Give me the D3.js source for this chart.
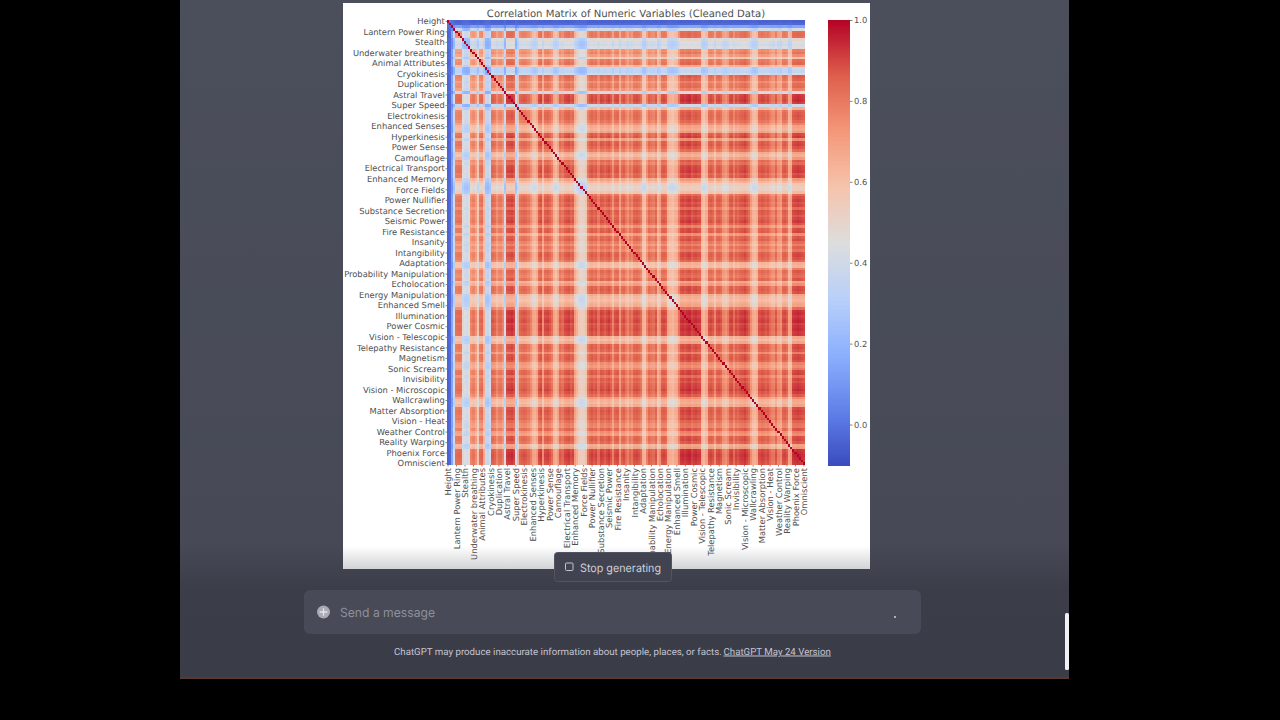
<!DOCTYPE html>
<html>
<head>
<meta charset="utf-8">
<script src="https://cdn.jsdelivr.net/npm/d3@7"></script>
<style>
  html, body { margin: 0; padding: 0; background: #000; overflow: hidden; }
  svg { display: block; text-rendering: geometricPrecision; }
  .tick text { font-family: "DejaVu Sans", sans-serif; }
</style>
</head>
<body>
<svg id="page" width="1280" height="720"></svg>
<script>
// Every fourth variable carries a tick label.
const tickLabels = ["Height","Lantern Power Ring","Stealth","Underwater breathing","Animal Attributes","Cryokinesis","Duplication","Astral Travel","Super Speed","Electrokinesis","Enhanced Senses","Hyperkinesis","Power Sense","Camouflage","Electrical Transport","Enhanced Memory","Force Fields","Power Nullifier","Substance Secretion","Seismic Power","Fire Resistance","Insanity","Intangibility","Adaptation","Probability Manipulation","Echolocation","Energy Manipulation","Enhanced Smell","Illumination","Power Cosmic","Vision - Telescopic","Telepathy Resistance","Magnetism","Sonic Scream","Invisibility","Vision - Microscopic","Wallcrawling","Matter Absorption","Vision - Heat","Weather Control","Reality Warping","Phoenix Force","Omniscient"];
const labelStep = 4;

// How strongly each of the 169 variables correlates with the rest (estimates).
const strength = [
  -.05,-.03,.15,.45,.86,.87,.86,.52,.46,.44,.48,.81,.84,.78,.62,.86,.88,.70,.40,.38,
  .45,.90,.88,.81,.86,.87,.81,.45,.95,.96,.97,.94,.42,.68,.88,.90,.91,.90,.87,.81,
  .72,.70,.75,.93,.95,.78,.93,.94,.91,.86,.72,.68,.75,.90,.87,.93,.94,.95,.91,.93,
  .75,.68,.60,.56,.58,.64,.87,.92,.94,.91,.93,.86,.94,.93,.90,.93,.95,.91,.81,.92,
  .93,.78,.90,.92,.86,.81,.88,.84,.92,.93,.91,.87,.68,.66,.81,.90,.88,.86,.91,.72,
  .78,.92,.93,.91,.72,.68,.66,.70,.72,.86,.96,.97,.95,.97,.98,.94,.96,.97,.95,.95,
  .70,.66,.72,.92,.93,.91,.81,.92,.93,.91,.81,.78,.83,.93,.94,.86,.93,.91,.94,.95,
  .97,.94,.90,.78,.70,.68,.72,.92,.94,.93,.91,.93,.88,.84,.83,.91,.81,.78,.92,.93,
  .90,.72,.75,.96,.97,.98,.97,.96,.95
];

const colorbarTicks = [0, 0.2, 0.4, 0.6, 0.8, 1.0];
const valueDomain = [-0.1, 1.0];

// Diverging coolwarm ramp.
const coolwarmStops = ["#3b4cc0","#6282ea","#8db0fe","#b8d0f9","#dddddd","#f5c4ad","#f4987a","#de604d","#b40426"];

const title = "Correlation Matrix of Numeric Variables (Cleaned Data)";
const footerText = "ChatGPT may produce inaccurate information about people, places, or facts.";
const footerLink = "ChatGPT May 24 Version";

const svg = d3.select("#page");
const defs = svg.append("defs");

// Page shell
const shellGrad = defs.append("linearGradient").attr("id","shell").attr("x1",0).attr("x2",0).attr("y1",0).attr("y2",1);
shellGrad.append("stop").attr("offset","0%").attr("stop-color","#4b4e5b");
shellGrad.append("stop").attr("offset","80%").attr("stop-color","#474a56");
shellGrad.append("stop").attr("offset","87%").attr("stop-color","#3b3d49");
shellGrad.append("stop").attr("offset","100%").attr("stop-color","#3a3c47");
svg.append("rect").attr("width",1280).attr("height",720).attr("fill","#000");
svg.append("rect").attr("x",180).attr("width",889).attr("height",678).attr("fill","url(#shell)");
svg.append("rect").attr("x",180).attr("y",677).attr("width",889).attr("height",2).attr("fill","#5a3a2a");

// White figure panel with its fade at the bottom edge
const fadeGrad = defs.append("linearGradient").attr("id","fade").attr("x1",0).attr("x2",0).attr("y1",0).attr("y2",1);
fadeGrad.append("stop").attr("offset","0%").attr("stop-color","#fff");
fadeGrad.append("stop").attr("offset","100%").attr("stop-color","#d2d3d6");
svg.append("rect").attr("x",343).attr("y",3).attr("width",527).attr("height",566).attr("fill","#fff");
svg.append("rect").attr("x",343).attr("y",546).attr("width",527).attr("height",23).attr("fill","url(#fade)");

// Heatmap
const n = strength.length;
const index = d3.range(n);
const x = d3.scaleBand().domain(index).range([447, 805]);
const y = d3.scaleBand().domain(index).range([20, 465]);
const tickIndex = index.filter(i => i % labelStep === 0);
const tickName = i => tickLabels[i / labelStep];

const ramp = d3.scaleLinear()
  .domain(d3.range(coolwarmStops.length).map(k => k / (coolwarmStops.length - 1)))
  .range(coolwarmStops)
  .interpolate(d3.interpolateRgb);
const color = d3.scaleSequential(t => ramp(t)).domain(valueDomain);

const cells = index.flatMap(i => index.map(j => ({
  i, j,
  value: i === j ? 1 : strength[i] * strength[j]
})));

svg.append("g").attr("shape-rendering","crispEdges")
  .selectAll("rect").data(cells).join("rect")
  .attr("x", d => Math.round(x(d.j)))
  .attr("y", d => Math.round(y(d.i)))
  .attr("width", d => Math.round(x(d.j) + x.bandwidth()) - Math.round(x(d.j)))
  .attr("height", d => Math.round(y(d.i) + y.bandwidth()) - Math.round(y(d.i)))
  .attr("fill", d => color(d.value));

// Axes
const inkColor = "#505050";
const tickFontSize = "8.35px";
const yAxis = svg.append("g").attr("transform","translate(447,0)")
  .call(d3.axisLeft(y).tickValues(tickIndex).tickFormat(tickName).tickSize(1.5));
yAxis.selectAll("text").attr("x",-2.2);
const xAxis = svg.append("g").attr("transform","translate(0,465)")
  .call(d3.axisBottom(x).tickValues(tickIndex).tickFormat(tickName).tickSize(1.5));
xAxis.selectAll("text")
  .attr("transform","rotate(-90)")
  .attr("text-anchor","end")
  .attr("dominant-baseline","middle")
  .attr("x",-3).attr("y",0.8).attr("dy",0);
for (const axis of [xAxis, yAxis]) {
  axis.select(".domain").remove();
  axis.selectAll("line").attr("stroke", inkColor).attr("stroke-width",0.7);
  axis.selectAll("text").attr("fill", inkColor).style("font-size",tickFontSize);
}

svg.append("text").attr("x",626).attr("y",16.5).attr("text-anchor","middle")
  .attr("fill",inkColor).style("font-family",'"DejaVu Sans", sans-serif').style("font-size","10.1px").text(title);

// Colour bar
const barY = d3.scaleLinear().domain(valueDomain).range([465, 20]);
const barSteps = d3.range(0, 222).map(k => valueDomain[0] + (valueDomain[1] - valueDomain[0]) * (k + 0.5) / 222);
const barStepHeight = 445 / 222;
svg.append("g").attr("shape-rendering","crispEdges")
  .selectAll("rect").data(barSteps).join("rect")
  .attr("x",828).attr("width",22)
  .attr("y", d => barY(d) - barStepHeight / 2).attr("height",barStepHeight + 0.5)
  .attr("fill", d => color(d));
const barAxis = svg.append("g").attr("transform","translate(850,0)")
  .call(d3.axisRight(barY).tickValues(colorbarTicks).tickFormat(d3.format(".1f")).tickSize(2.5).tickPadding(1.5));
barAxis.select(".domain").remove();
barAxis.selectAll("line").attr("stroke",inkColor).attr("stroke-width",0.7);
barAxis.selectAll("text").attr("fill",inkColor).style("font-size",tickFontSize);

// Composer controls and footer
const uiFont = '"Inter", "Open Sans", sans-serif';
const footerFont = 'Roboto, "Open Sans", sans-serif';
svg.append("rect").attr("x",554.5).attr("y",552.5).attr("width",117).attr("height",29).attr("rx",3)
  .attr("fill","#414350").attr("stroke","#52545f");
svg.append("rect").attr("x",565.5).attr("y",563).attr("width",7.5).attr("height",7.5).attr("rx",1)
  .attr("fill","none").attr("stroke","#c5c6ce");
svg.append("text").attr("x",580).attr("y",571.5).attr("fill","#cfd0d8")
  .attr("textLength",81).attr("lengthAdjust","spacingAndGlyphs")
  .style("font-family",uiFont).style("font-size","11.4px").text("Stop generating");

svg.append("rect").attr("x",304).attr("y",590).attr("width",617).attr("height",44).attr("rx",6)
  .attr("fill","#484a57");
svg.append("circle").attr("cx",323.5).attr("cy",612).attr("r",6.5).attr("fill","#a9aab4");
svg.append("path").attr("d","M319.7 612H327.3M323.5 608.2V615.8").attr("stroke","#e4e4ea").attr("stroke-width",1.3);
svg.append("text").attr("x",340).attr("y",616.5).attr("fill","#8e8f9c")
  .attr("textLength",95).attr("lengthAdjust","spacingAndGlyphs")
  .style("font-family",uiFont).style("font-size","12.6px").text("Send a message");
svg.append("circle").attr("cx",895).attr("cy",617).attr("r",1).attr("fill","#d0d0d8");

svg.append("text").attr("x",394).attr("y",654.5).attr("fill","#c5c5d2")
  .style("font-family",footerFont).style("font-size","9.7px").text(footerText);
svg.append("text").attr("x",723.5).attr("y",654.5).attr("fill","#c5c5d2")
  .attr("text-decoration","underline")
  .style("font-family",footerFont).style("font-size","9.7px").text(footerLink);

// Scrollbar thumb
svg.append("rect").attr("x",1065).attr("y",613).attr("width",4).attr("height",57).attr("rx",1.5).attr("fill","#f1f1f3");
</script>
</body>
</html>
